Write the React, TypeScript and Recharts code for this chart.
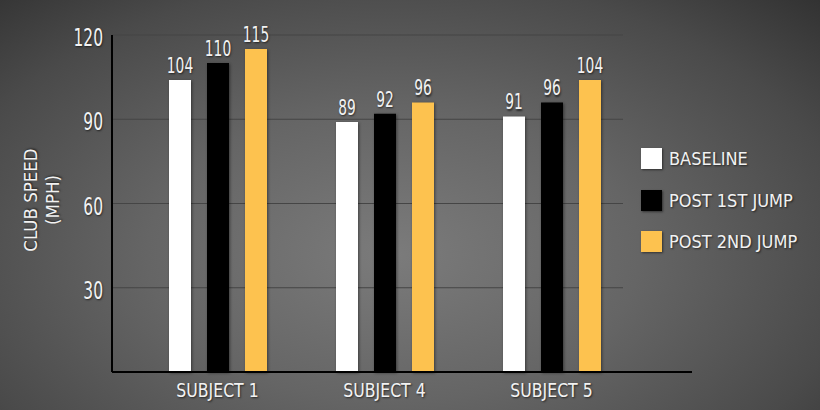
import React from 'react';
import {
  BarChart,
  Bar,
  XAxis,
  YAxis,
  CartesianGrid,
  LabelList,
} from 'recharts';

const subjects = ['SUBJECT 1', 'SUBJECT 4', 'SUBJECT 5'];
const baseline = [104, 89, 91];
const postFirstJump = [110, 92, 96];
const postSecondJump = [115, 96, 104];
const yTicks = [30, 60, 90, 120];

const series = [
  { key: 'baseline', name: 'BASELINE', color: '#ffffff' },
  { key: 'post1', name: 'POST 1ST JUMP', color: '#000000' },
  { key: 'post2', name: 'POST 2ND JUMP', color: '#fdc24f' },
];

const data = subjects.map((subject, i) => ({
  subject,
  baseline: baseline[i],
  post1: postFirstJump[i],
  post2: postSecondJump[i],
}));

const FONT = "'DejaVu Sans Condensed', 'DejaVu Sans', sans-serif";
const TEXT = '#f2f2f2';
const SHADOW = '1px 1px 2px rgba(0,0,0,0.6)';

// the original uses a very narrow numeral face, so squeeze the digits sideways
const NarrowText = ({ x, y, anchor, size, squeeze, children }: any) => (
  <text
    transform={`translate(${x}, ${y}) scale(${squeeze}, 1)`}
    textAnchor={anchor}
    fill={TEXT}
    fontFamily={FONT}
    fontSize={size}
    style={{ textShadow: SHADOW }}
  >
    {children}
  </text>
);

const YTick = ({ x, y, payload }: any) => (
  <NarrowText x={x} y={y + 11} anchor="end" size={25} squeeze={0.69}>
    {payload.value}
  </NarrowText>
);

const XTick = ({ x, y, payload }: any) => (
  <NarrowText x={x} y={y + 10} anchor="middle" size={19} squeeze={0.92}>
    {payload.value}
  </NarrowText>
);

const ValueLabel = ({ x, y, width, value }: any) => (
  <NarrowText x={x + width / 2} y={y - 7} anchor="middle" size={20.5} squeeze={0.75}>
    {value}
  </NarrowText>
);

// gridlines in the original stop short of the x axis end
const GridLine = (props: any) => (
  <line
    x1={props.x1}
    y1={props.y1}
    x2={props.x2 - 69}
    y2={props.y2}
    stroke="#454545"
    strokeWidth={1.2}
  />
);

const YLabel = () => (
  <text
    transform="translate(30, 200) rotate(-90)"
    textAnchor="middle"
    fill={TEXT}
    fontFamily={FONT}
    fontSize={18.5}
    style={{ textShadow: SHADOW }}
  >
    <tspan x={0} dy={7}>CLUB SPEED</tspan>
    <tspan x={0} dy={22}>(MPH)</tspan>
  </text>
);

const ChartLegend = () => (
  <div style={{ position: 'absolute', left: 641, top: 148, fontFamily: FONT }}>
    {series.map((s) => (
      <div
        key={s.key}
        style={{ display: 'flex', alignItems: 'center', height: 21, marginBottom: 20.5 }}
      >
        <div
          style={{
            width: 21,
            height: 21,
            background: s.color,
            boxShadow: '1px 1px 2px rgba(0,0,0,0.5)',
            marginRight: 7,
          }}
        />
        <span style={{ color: TEXT, fontSize: 18, textShadow: SHADOW, whiteSpace: 'nowrap' }}>
          {s.name}
        </span>
      </div>
    ))}
  </div>
);

export default function App() {
  return (
    <div
      style={{
        position: 'absolute',
        left: 0,
        top: 0,
        width: 820,
        height: 410,
        overflow: 'hidden',
        background:
          'radial-gradient(ellipse 75% 90% at 48% 62%, #7b7b7b 0%, #656565 40%, #4a4a4a 75%, #303030 100%)',
      }}
    >
      <style>{`.recharts-bar-rectangle path { filter: drop-shadow(1px 1px 1.5px rgba(0,0,0,0.45)); }`}</style>
      <BarChart
        width={820}
        height={410}
        data={data}
        margin={{ top: 35, right: 128, bottom: 0, left: 0 }}
        barSize={22}
        barGap={16}
      >
        <CartesianGrid vertical={false} horizontal={GridLine} />
        <XAxis
          dataKey="subject"
          height={38}
          padding={{ left: 22, right: 57 }}
          axisLine={{ stroke: '#000', strokeWidth: 2 }}
          tickLine={false}
          tickMargin={9}
          tick={<XTick />}
        />
        <YAxis
          width={112}
          domain={[0, 120]}
          ticks={yTicks}
          axisLine={{ stroke: '#000', strokeWidth: 2 }}
          tickLine={false}
          tickMargin={3}
          tick={<YTick />}
          label={<YLabel />}
        />
        {series.map((s) => (
          <Bar key={s.key} dataKey={s.key} name={s.name} fill={s.color} isAnimationActive={false}>
            <LabelList dataKey={s.key} content={<ValueLabel />} />
          </Bar>
        ))}
      </BarChart>
      <ChartLegend />
    </div>
  );
}
